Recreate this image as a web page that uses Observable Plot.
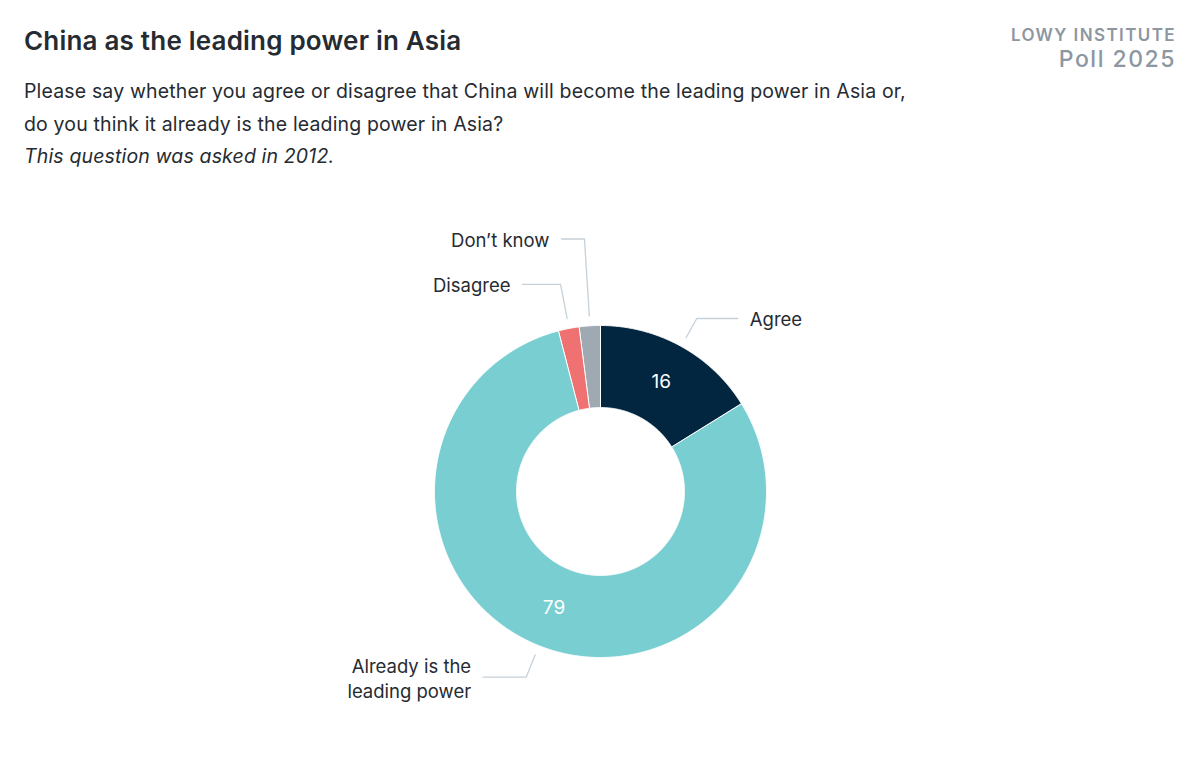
<!DOCTYPE html>
<html><head><meta charset="utf-8">
<script src="https://cdn.jsdelivr.net/npm/d3@7"></script>
<script src="https://cdn.jsdelivr.net/npm/@observablehq/plot@0.6"></script>
<style>
body{margin:0;background:#fff;font-family:Inter,"Noto Sans",sans-serif;}
#wrap{position:relative;width:1200px;height:783px;overflow:hidden;background:#fff}
#title{position:absolute;left:24px;top:25px;font-size:26px;font-weight:600;color:#262b31;letter-spacing:0.2px}
#sub{position:absolute;left:24px;top:75px;font-size:19.5px;line-height:32.5px;color:#262b31;font-weight:400;letter-spacing:0.15px}
#sub i{font-style:italic}
#logo{position:absolute;right:24px;top:25px;text-align:right;color:#8d97a2;white-space:nowrap;line-height:normal}
#logo .a{font-size:17px;font-weight:600;letter-spacing:1.4px}
#logo .b{font-size:23px;font-weight:500;letter-spacing:1.5px}
#chart{position:absolute;left:0;top:183px}
</style></head><body>
<div id="wrap">
<div id="title">China as the leading power in Asia</div>
<div id="sub">Please say whether you agree or disagree that China will become the leading power in Asia or,<br>do you think it already is the leading power in Asia?<br><i>This question was asked in 2012.</i></div>
<div id="logo"><div class="a">LOWY INSTITUTE</div><div class="b">Poll 2025</div></div>
<div id="chart"></div>
</div>
<script>
// ---- data ----
const categories = ["Agree", "Already is the leading power", "Disagree", "Don’t know"];
const values = [16, 79, 2, 2];
const colors = ["#022640", "#79CED1", "#F07171", "#9EA9B1"];
const labelTexts = ["Agree", "Already is the\nleading power", "Disagree", "Don’t know"];

// ---- layout config ----
const W = 1200, H = 600;
const rOuter = 166, rInner = 84, rLabel = 125;
const leader = { // elbow radius, horizontal run
  "Agree": [198, 41],
  "Already is the leading power": [200, 43],
  "Disagree": [211, 38],
  "Don’t know": [253, 23]
};
const leaderStart = 176, textGap = 12;

const data = categories.map((c, i) => ({category: c, value: values[i], label: labelTexts[i]}));
const arcs = d3.pie().sort(null).value(d => d.value)(data);

const pt = (r, a) => [r * Math.sin(a), -r * Math.cos(a)];

const slicePts = [];
for (const a of arcs) {
  const n = Math.max(2, Math.ceil((a.endAngle - a.startAngle) / 0.005) + 1);
  const outer = d3.range(n).map(i => a.startAngle + (a.endAngle - a.startAngle) * i / (n - 1));
  for (const t of outer) { const [x, y] = pt(rOuter, t); slicePts.push({key: a.data.category, x, y}); }
  for (const t of outer.slice().reverse()) { const [x, y] = pt(rInner, t); slicePts.push({key: a.data.category, x, y}); }
}

const valueLabels = arcs.filter(a => a.data.value >= 5).map(a => {
  const m = (a.startAngle + a.endAngle) / 2; const [x, y] = pt(rLabel, m);
  return {x, y, text: String(a.data.value)};
});

const leaderPts = [], catLabels = [];
for (const a of arcs) {
  const m = (a.startAngle + a.endAngle) / 2;
  const [re, run] = leader[a.data.category];
  const dir = Math.sin(m) >= 0 ? 1 : -1;
  const [x0, y0] = pt(leaderStart, m);
  const [x1, y1] = pt(re, m);
  const x2 = x1 + dir * run;
  leaderPts.push({key: a.data.category, x: x0, y: y0}, {key: a.data.category, x: x1, y: y1}, {key: a.data.category, x: x2, y: y1});
  catLabels.push({x: x2 + dir * textGap, y: y1, text: a.data.label, anchor: dir > 0 ? "start" : "end"});
}

const chart = Plot.plot({
  width: W, height: H,
  margin: 0,
  x: {domain: [-600, 600], range: [0, W], axis: null},
  y: {domain: [-308, 292], range: [0, H], axis: null},
  color: {domain: categories, range: colors},
  style: {fontFamily: "Inter, 'Noto Sans', sans-serif", background: "transparent"},
  marks: [
    Plot.line(slicePts, {x: "x", y: "y", z: "key", fill: "key", stroke: "white", strokeWidth: 1, curve: "linear-closed"}),
    Plot.line(leaderPts, {x: "x", y: "y", z: "key", stroke: "#c6d1d9", strokeWidth: 1.3}),
    Plot.text(valueLabels, {x: "x", y: "y", text: "text", fill: "white", fontSize: 19}),
    Plot.text(catLabels.filter(d => d.anchor === "start"), {x: "x", y: "y", text: "text", textAnchor: "start", fill: "#262b31", fontSize: 18.5, lineHeight: 1.35}),
    Plot.text(catLabels.filter(d => d.anchor === "end"), {x: "x", y: "y", text: "text", textAnchor: "end", fill: "#262b31", fontSize: 18.5, lineHeight: 1.35})
  ]
});
document.getElementById("chart").appendChild(chart);
</script>
</body></html>
